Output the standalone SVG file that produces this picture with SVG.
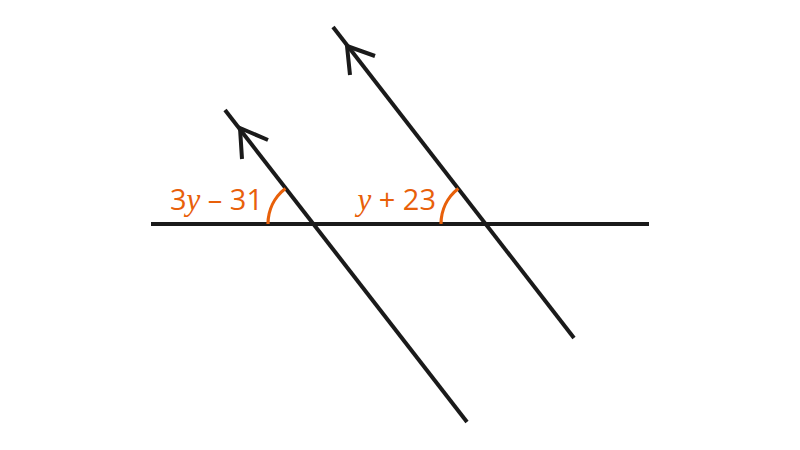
<svg xmlns="http://www.w3.org/2000/svg" width="800" height="450" viewBox="0 0 800 450">
<style>
.ln{stroke:#1a1a1a;stroke-width:4;fill:none;stroke-linecap:butt}
.ah{stroke:#1a1a1a;stroke-width:4;fill:none;stroke-linejoin:miter}
.arc{stroke:#e8600a;stroke-width:3.2;fill:none}
.lbl{fill:#e8600a;font-family:"Open Sans","Noto Sans",sans-serif;font-size:29px}
.v{font-family:"Liberation Serif",serif;font-style:italic;font-size:31px}
</style>
<rect width="800" height="450" fill="#fff"/>
<g id="connectors">
<line id="base" class="ln" x1="151" y1="224" x2="649" y2="224"/>
<line id="l1" class="ln" x1="225" y1="110" x2="467" y2="422"/>
<line id="l2" class="ln" x1="333" y1="27" x2="574" y2="338"/>
<polyline class="ah" points="268,140 240,128 242,159"/>
<polyline class="ah" points="375,56 347,46 350,75"/>
</g>
<g id="angle1">
<path class="arc" d="M268,224 A45,45 0 0 1 285.4,188.5"/>
<text class="lbl" x="263" y="210" text-anchor="end">3<tspan class="v">y</tspan> – 31</text>
</g>
<g id="angle2">
<path class="arc" d="M441,224 A45,45 0 0 1 458.4,188.5"/>
<text class="lbl" x="436" y="210" text-anchor="end"><tspan class="v">y</tspan> + 23</text>
</g>
</svg>
